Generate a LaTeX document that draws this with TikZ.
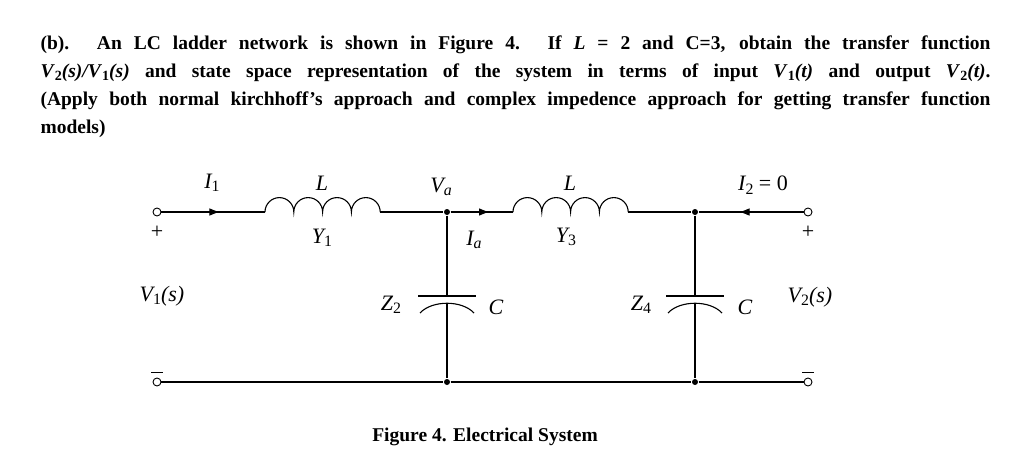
\documentclass[tikz,border=0pt]{standalone}
\usepackage{fontspec}
\setmainfont{Liberation Serif}
\usetikzlibrary{arrows.meta,decorations.markings}
\newcommand{\mysub}[1]{\raisebox{-0.35ex}{\fontsize{0.72em}{1em}\selectfont\upshape #1}}
\begin{document}
\begin{tikzpicture}[x=1pt,y=-1pt,line width=1.1pt,
  term/.style={circle,draw,fill=white,inner sep=0pt,minimum size=8pt,line width=0.9pt},
  dot/.style={circle,fill=black,inner sep=0pt,minimum size=6pt},
  lbl/.style={font=\fontsize{22}{22}\selectfont\itshape,inner sep=0pt},
  ttl/.style={anchor=west,inner sep=0pt,font=\fontsize{19.5}{22}\selectfont\bfseries},
  arr/.style={postaction={decorate},decoration={markings,mark=at position #1 with {\arrow{Triangle[length=9pt,width=7pt]}}}}]
\useasboundingbox (0,0) rectangle (1024,449);
% title
\node[ttl] (t1) at (40,45) {\makebox[950pt][s]{(b). An LC ladder network is shown in Figure 4. If \textit{L} = 2 and C=3, obtain the transfer function}};
\node[ttl] (t2) at (40,73) {\makebox[950pt][s]{\textit{V}\mysub{2}\textit{(s)/V}\mysub{1}\textit{(s)} and state space representation of the system in terms of input \textit{V}\mysub{1}\textit{(t)} and output \textit{V}\mysub{2}\textit{(t)}.}};
\node[ttl] (t3) at (40,101) {\makebox[950pt][s]{(Apply both normal kirchhoff's approach and complex impedence approach for getting transfer function}};
\node[ttl] (t4) at (40,129) {models)};
% coordinates
\node[term] (tl) at (157,212) {};
\node[term] (bl) at (157,382) {};
\node[term] (tr) at (808,212) {};
\node[term] (br) at (808,382) {};
\coordinate (l1a) at (265,212); \coordinate (l1b) at (380,212);
\coordinate (l2a) at (513,212); \coordinate (l2b) at (628,212);
\node[dot] (va) at (447,212) {};
\node[dot] (vb) at (695,212) {};
\node[dot] (ga) at (447,382) {};
\node[dot] (gb) at (695,382) {};
% wires
\draw[arr=0.55] (tl) -- (l1a);
\draw (l1a) arc (180:360:14.4) arc (180:360:14.4) arc (180:360:14.4) arc (180:360:14.4);
\draw (l1b) -- (va);
\draw[arr=0.6] (va) -- (l2a);
\draw (l2a) arc (180:360:14.4) arc (180:360:14.4) arc (180:360:14.4) arc (180:360:14.4);
\draw (l2b) -- (vb);
\draw[arr=0.6] (tr) -- (vb);
\draw (bl) -- (ga) -- (gb) -- (br);
% capacitors
\foreach \n/\g/\x in {va/ga/447, vb/gb/695}{
  \draw (\n) -- (\x,296);
  \draw (\x-29,296) -- (\x+29,296);
  \draw (\x-27,313) .. controls (\x-15,300) and (\x+15,300) .. (\x+27,313);
  \draw (\x,303.5) -- (\g);
}
% labels
\node[lbl] (li1) at (212,183) {I\mysub{1}};
\node[lbl] (lL1) at (322,183) {L};
\node[lbl] (lva) at (441,187) {V\mysub{\itshape a}};
\node[lbl] (lL2) at (570,183) {L};
\node[lbl] (li2) at (763,185) {I\mysub{2}\upshape\ = 0};
\node[lbl] (ly1) at (322,238) {Y\mysub{1}};
\node[lbl] (lia) at (474,240) {I\mysub{\itshape a}};
\node[lbl] (ly3) at (566,237) {Y\mysub{3}};
\node[lbl] (p1) at (157,232) {\upshape +};
\node[lbl] (p2) at (808,232) {\upshape +};
\node[lbl] (v1) at (162,296) {V\mysub{1}(s)};
\node[lbl] (v2) at (810,297) {V\mysub{2}(s)};
\node[lbl] (z2) at (391,305) {Z\mysub{2}};
\node[lbl] (c1) at (496,307) {C};
\node[lbl] (z4) at (641,305) {Z\mysub{4}};
\node[lbl] (c2) at (745,307) {C};
\draw[line width=1pt] (151,372) -- (163,372);
\draw[line width=1pt] (802,372) -- (814,372);
\node[inner sep=0pt,font=\fontsize{19.5}{22}\selectfont\bfseries] (cap) at (485,437) {Figure 4. Electrical System};
\end{tikzpicture}
\end{document}
